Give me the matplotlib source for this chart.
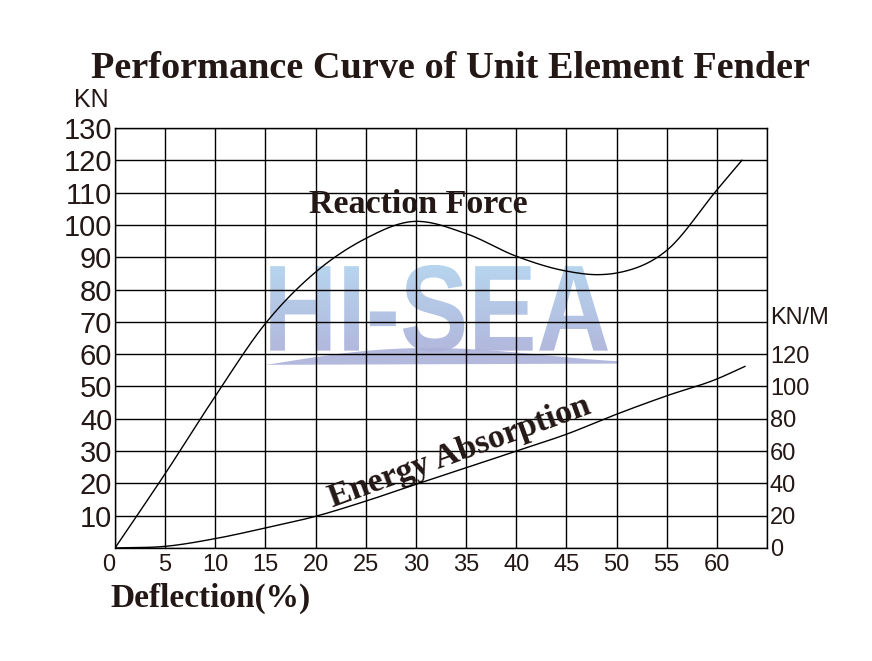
import matplotlib
matplotlib.use('Agg')
import matplotlib.pyplot as plt
import numpy as np
from matplotlib.textpath import TextPath
from matplotlib.patches import PathPatch
from matplotlib.font_manager import FontProperties
from matplotlib.transforms import Affine2D
from matplotlib.colors import LinearSegmentedColormap

# deflection (%) vs reaction force (KN)
force_x = [0, 5, 10, 15, 20, 25, 29.5, 35, 40, 45, 48.3, 50, 55, 60, 62.5]
force_y = [0, 23, 47, 69.5, 85.4, 95.8, 101, 97.3, 90.3, 85.7, 84.6, 85.1, 92.1, 110.8, 120]

# deflection (%) vs energy absorption (KN/M, right axis)
energy_x = [0, 5, 10, 15, 20, 25, 30, 35, 40, 45, 50, 55, 60, 62.8]
energy_y = [0, 1, 5.8, 12.4, 19.6, 29, 39.4, 49.6, 60, 70.4, 82.8, 94.2, 104.6, 112.4]

x_ticks = [0, 5, 10, 15, 20, 25, 30, 35, 40, 45, 50, 55, 60]
left_ticks = list(range(0, 131, 10))
right_ticks = [0, 20, 40, 60, 80, 100, 120]

sans = ['Liberation Sans', 'DejaVu Sans']
serif = ['Liberation Serif', 'DejaVu Serif']
ink = '#231815'

fig = plt.figure(figsize=(8.72, 6.61), dpi=100)
ax = fig.add_axes([0.1319, 0.1710, 0.7477, 0.6354])


def smooth(xs, ys, n=400):
    # cubic hermite through the read points
    xs = np.array(xs, float)
    ys = np.array(ys, float)
    t = np.linspace(xs[0], xs[-1], n)
    m = np.gradient(ys, xs)
    idx = np.clip(np.searchsorted(xs, t) - 1, 0, len(xs) - 2)
    h = xs[idx + 1] - xs[idx]
    s = (t - xs[idx]) / h
    h00 = 2*s**3 - 3*s**2 + 1
    h10 = s**3 - 2*s**2 + s
    h01 = -2*s**3 + 3*s**2
    h11 = s**3 - s**2
    return t, h00*ys[idx] + h10*h*m[idx] + h01*ys[idx+1] + h11*h*m[idx+1]


# watermark "HI-SEA" squeezed into its box, with a vertical gradient
tp = TextPath((0, 0), 'HI-SEA', size=1, prop=FontProperties(family=sans, weight='bold'))
bb = tp.get_extents()
x0, x1, y0, y1 = 0.238, 0.756, 0.467, 0.674
tr = Affine2D().translate(-bb.x0, -bb.y0).scale((x1 - x0) / bb.width, (y1 - y0) / bb.height).translate(x0, y0)
patch = PathPatch(tr.transform_path(tp), transform=ax.transAxes, facecolor='none', edgecolor='none')
ax.add_patch(patch)
cmap = LinearSegmentedColormap.from_list('wm', ['#a9b0da', '#afd0ec'])
grad = np.linspace(0, 1, 100).reshape(-1, 1)
im = ax.imshow(grad, cmap=cmap, origin='lower', extent=[x0, x1, y0, y1],
               transform=ax.transAxes, aspect='auto', zorder=1, alpha=0.9)
im.set_clip_path(patch)

# swoosh under the letters
sx = np.linspace(0.230, 0.772, 100)
u = (sx - sx[0]) / (sx[-1] - sx[0])
bottom = 0.436 + 0.003 * u
top = bottom + 0.036 * np.sin(np.pi * u ** 0.85) ** 1.3 + 0.006 * u
ax.fill(np.concatenate([sx, sx[::-1]]), np.concatenate([bottom, top[::-1]]),
        transform=ax.transAxes, color='#abb1da', lw=0, zorder=1, alpha=0.9)

fx, fy = smooth(force_x, force_y)
ax.plot(fx, fy, color='black', lw=1.0, zorder=3)

ax.set_xlim(0, 65)
ax.set_ylim(0, 130)
ax.set_xticks(np.arange(0, 66, 5))
ax.set_yticks(left_ticks)
ax.grid(True, color='black', lw=1.0, zorder=2)
for s in ax.spines.values():
    s.set_color('black')
    s.set_linewidth(1.0)
ax.tick_params(length=0)
ax.tick_params(axis='x', pad=4, labelsize=17)
ax.tick_params(axis='y', pad=2, labelsize=21)
ax.set_xticklabels([str(v) if v in x_ticks else '' for v in range(0, 66, 5)], family=sans, color=ink)
ax.set_yticklabels(['' if v == 0 else str(v) for v in left_ticks], family=sans, color=ink)
ax.get_xticklabels()[0].set_horizontalalignment('right')
ax.get_xticklabels()[0].set_x(-0.6)

ax2 = ax.twinx()
ax2.set_ylim(0, 260)
ax2.set_yticks(right_ticks)
ax2.set_yticklabels([str(v) for v in right_ticks], family=sans, color=ink)
ax2.tick_params(length=0, pad=2, labelsize=17)
for s in ax2.spines.values():
    s.set_visible(False)
ex, ey = smooth(energy_x, energy_y)
ax2.plot(ex, ey, color='black', lw=1.0, zorder=3)

fig.text(0.517, 0.897, 'Performance Curve of Unit Element Fender', ha='center', va='center',
         fontsize=27.5, fontweight='bold', family=serif, color=ink)
fig.text(0.105, 0.849, 'KN', ha='center', va='center', fontsize=18, family=sans, color=ink)
fig.text(0.917, 0.519, 'KN/M', ha='center', va='center', fontsize=17, family=sans, color=ink)
fig.text(0.242, 0.095, 'Deflection(%)', ha='center', va='center',
         fontsize=24, fontweight='bold', family=serif, color=ink)
ax.text(0.465, 0.817, 'Reaction Force', transform=ax.transAxes, ha='center', va='center',
        fontsize=24.5, fontweight='bold', family=serif, color=ink, zorder=4)
ax.text(0.529, 0.229, 'Energy Absorption', transform=ax.transAxes, ha='center', va='center',
        fontsize=24.5, fontweight='bold', family=serif, color=ink, rotation=20, zorder=4)

fig.savefig('out.png', dpi=100)
